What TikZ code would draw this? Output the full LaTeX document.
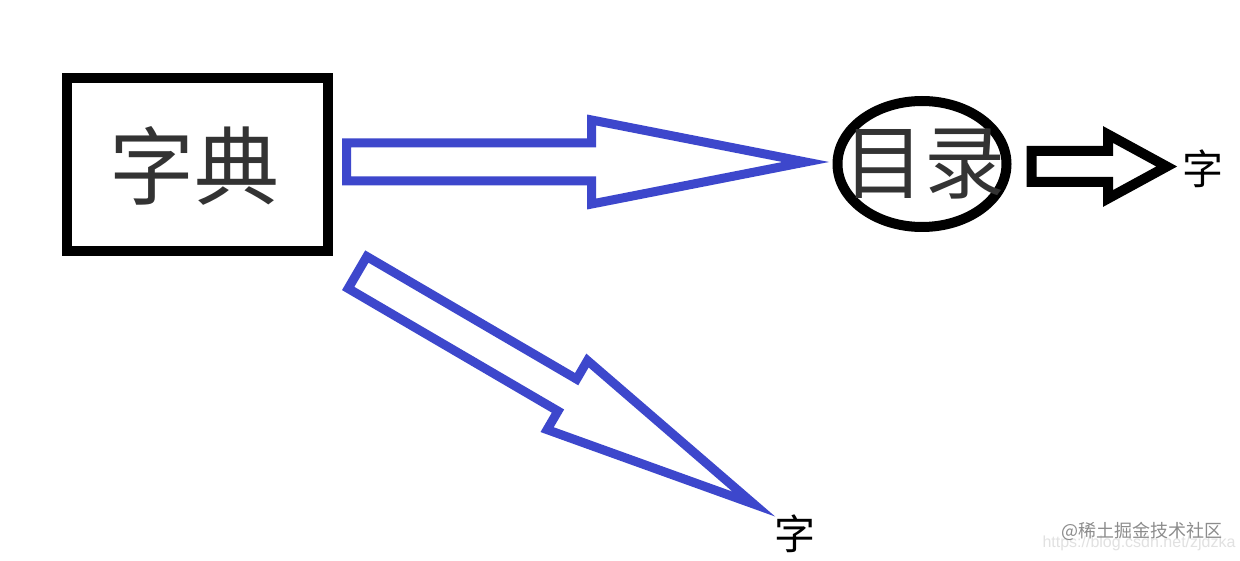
\documentclass[tikz,border=0pt]{standalone}
\usepackage{fontspec}
\newfontfamily\cjk{Noto Sans CJK SC}
\newfontfamily\urlfont{Liberation Sans}
\usetikzlibrary{shapes.geometric}
\definecolor{arrowblue}{RGB}{61,71,204}
\definecolor{textgray}{RGB}{51,51,51}
\definecolor{wmgray}{RGB}{140,140,140}
\definecolor{wmlight}{RGB}{225,225,225}
\tikzset{
  bigcjk/.style={font=\cjk\fontsize{85}{85}\selectfont, text=textgray, inner sep=0pt},
  smallcjk/.style={font=\cjk\fontsize{41}{41}\selectfont, text=black, inner sep=0pt},
  blockblue/.style={draw=arrowblue, line width=9pt, fill=white},
  blockblack/.style={draw=black, line width=10pt, fill=white},
}
\begin{document}
\begin{tikzpicture}[x=1pt,y=-1pt]
\useasboundingbox[fill=white] (0,0) rectangle (1240,561);

% dictionary box
\node[draw, line width=10pt, minimum width=261pt, minimum height=173pt, inner sep=0pt, outer sep=0pt] (dict) at (197,165) {};
\node[bigcjk] (dictlabel) at (194,165.5) {字典};

% catalogue ellipse
\node[ellipse, draw, line width=10pt, minimum width=169pt, minimum height=126pt, inner sep=0pt] (mulu) at (922,164) {};
\node[bigcjk, font=\cjk\fontsize{81}{81}\selectfont] (mululabel) at (924,163.5) {目录};

% target characters
\node[smallcjk] (ziright) at (1203,169) {字};
\node[smallcjk] (zibottom) at (795,534) {字};

% block arrow: dict -> mulu
\coordinate (a1tail) at (346.7,162);
\begin{scope}[shift={(a1tail)}]
  \draw[blockblue] (0,-19) -- (245,-19) -- (245,-42) -- (459,0) -- (245,42) -- (245,19) -- (0,19) -- cycle;
\end{scope}

% block arrow: dict -> zi (bottom)
\coordinate (a2tail) at (357.5,272.5);
\begin{scope}[shift={(a2tail)}, rotate=-30.3]
  \draw[blockblue] (0,-18.5) -- (243,-18.5) -- (243,-40) -- (459,0) -- (243,40) -- (243,18.5) -- (0,18.5) -- cycle;
\end{scope}

% block arrow: mulu -> zi (right)
\coordinate (a3tail) at (1031.7,166.5);
\begin{scope}[shift={(a3tail)}]
  \draw[blockblack] (0,-15.5) -- (76.3,-15.5) -- (76.3,-32) -- (135,0) -- (76.3,32) -- (76.3,15.5) -- (0,15.5) -- cycle;
\end{scope}

% watermark (its two lines overlap in the original as well)
\node[font=\urlfont\fontsize{16}{16}\selectfont, text=wmlight, inner sep=0pt] (wmurl) at (1139,543) {https://blog.csdn.net/zjdzka};
\node[font=\cjk\fontsize{18}{18}\selectfont, text=wmgray, inner sep=0pt] (wmtext) at (1142,531) {@稀土掘金技术社区};
\end{tikzpicture}
\end{document}
